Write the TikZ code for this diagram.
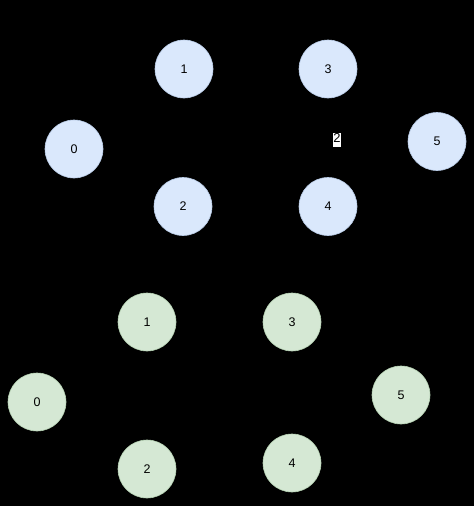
\documentclass[tikz,border=0pt]{standalone}
\usepackage{fontspec}
\setmainfont{Liberation Sans}
\begin{document}
\begin{tikzpicture}[x=1pt,y=-1pt,
  vtx/.style={circle,minimum size=58pt,inner sep=0pt,font=\fontsize{12.5}{15}\selectfont,line width=0.6pt},
  elabel/.style={fill=white,inner xsep=0.5pt,inner ysep=0pt,text height=10pt,text depth=4pt,font=\fontsize{13}{15}\selectfont}]
\definecolor{bfill}{HTML}{DAE8FC}
\definecolor{bdraw}{HTML}{B8CBE6}
\definecolor{gfill}{HTML}{D5E8D4}
\definecolor{gdraw}{HTML}{B5D1B2}
\fill[black] (0,0) rectangle (474,506);
\useasboundingbox (0,0) rectangle (474,506);
% top graph
\node[vtx,fill=bfill,draw=bdraw] (a0) at (74,149) {0};
\node[vtx,fill=bfill,draw=bdraw] (a1) at (184,69) {1};
\node[vtx,fill=bfill,draw=bdraw] (a2) at (183,206.5) {2};
\node[vtx,fill=bfill,draw=bdraw] (a3) at (328,69) {3};
\node[vtx,fill=bfill,draw=bdraw] (a4) at (328,206.5) {4};
\node[vtx,fill=bfill,draw=bdraw] (a5) at (437,141.5) {5};
\node[elabel] (w) at (337,139.5) {2};
% bottom graph
\node[vtx,fill=gfill,draw=gdraw] (b0) at (37,402) {0};
\node[vtx,fill=gfill,draw=gdraw] (b1) at (147,322) {1};
\node[vtx,fill=gfill,draw=gdraw] (b2) at (147,469) {2};
\node[vtx,fill=gfill,draw=gdraw] (b3) at (292,322) {3};
\node[vtx,fill=gfill,draw=gdraw] (b4) at (292,463) {4};
\node[vtx,fill=gfill,draw=gdraw] (b5) at (401,395) {5};
\end{tikzpicture}
\end{document}
